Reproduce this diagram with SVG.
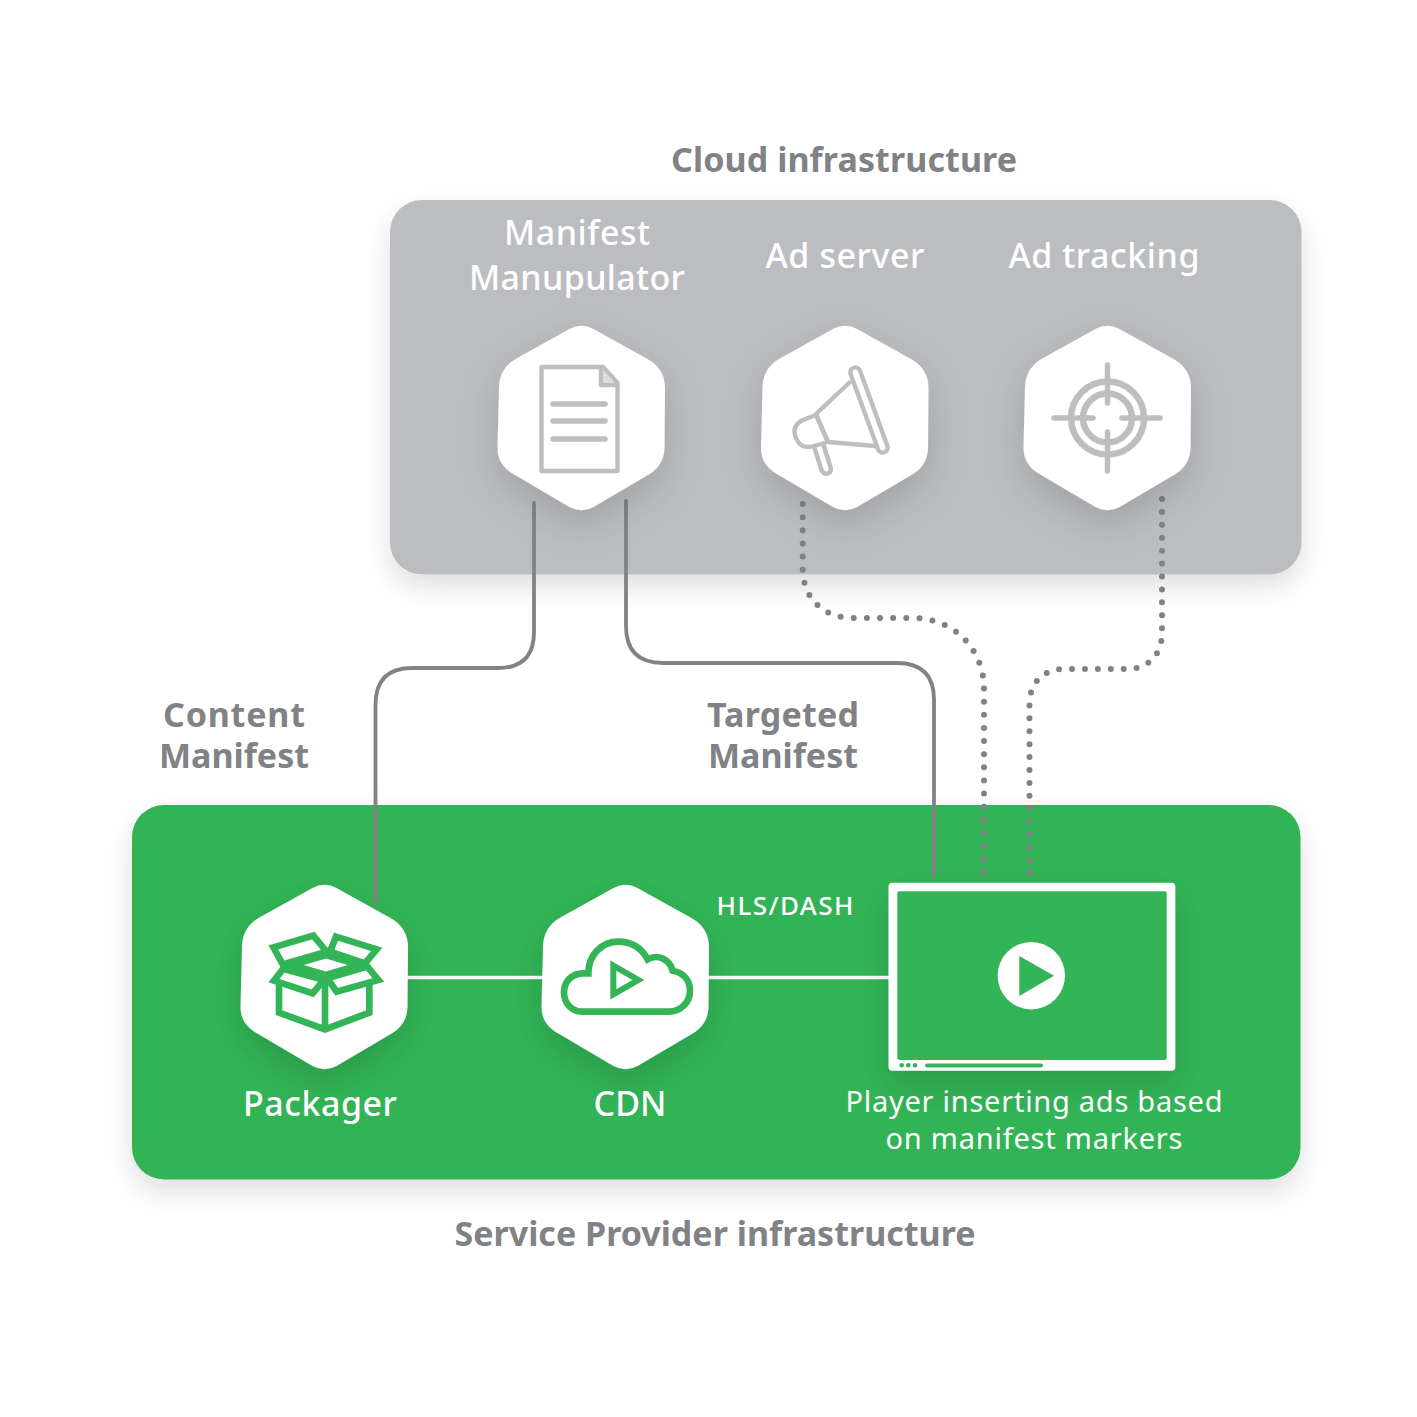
<svg xmlns="http://www.w3.org/2000/svg" width="1417" height="1417" viewBox="0 0 1417 1417">
<style>
text{font-family:"Noto Sans","Liberation Sans",sans-serif;text-anchor:middle}
.h{font-size:34px;font-weight:700;fill:#808285}
.w{font-size:34px;font-weight:500;fill:#fff}
.s{font-size:26px;font-weight:500;fill:#fff}
.p{font-size:29px;fill:#fff}
.solid{fill:none;stroke:#808285;stroke-width:3.8;stroke-linecap:round}
.dot{fill:none;stroke:#808285;stroke-width:6;stroke-linecap:round;stroke-dasharray:0 1}
.wl{fill:none;stroke:#fff;stroke-width:3.5}
.gi{fill:none;stroke:#bcbec0;stroke-width:4.4;stroke-linecap:round;stroke-linejoin:round}
.ci{fill:none;stroke:#33b457;stroke-width:20;stroke-linejoin:miter}
</style>
<defs>
<filter id="ps" x="-10%" y="-20%" width="120%" height="150%"><feDropShadow dx="0" dy="12" stdDeviation="14" flood-color="#000" flood-opacity=".13"/></filter>
<filter id="hs" x="-50%" y="-50%" width="200%" height="210%"><feDropShadow dx="0" dy="14" stdDeviation="18" flood-color="#000" flood-opacity=".14"/></filter>
<path id="hex" d="M-12 -89Q0 -95.500 12 -89L66 -59Q83.500 -49 83.500 -30L83 30Q82.500 47 68 56L12 89Q0 95.500 -12 89L-68 56Q-84 47 -84 30L-82.500 -30Q-82.500 -49 -66 -59Z" fill="#fff" filter="url(#hs)"/>
</defs>
<rect width="1417" height="1417" fill="#fff"/>
<g id="cloud-panel"><rect x="390" y="200" width="911.500" height="374.500" rx="32" fill="#bbbdc0" filter="url(#ps)"/>
<text class="h" x="844" y="172" textLength="346">Cloud infrastructure</text></g>
<g id="provider-panel"><rect x="132" y="805" width="1168.500" height="374.500" rx="32" fill="#33b457" filter="url(#ps)"/>
<text class="h" x="715" y="1246" textLength="521">Service Provider infrastructure</text></g>
<g id="connectors">
<path class="wl" d="M405 977.500H545M706 977.500H892"/>
<path class="solid" d="M534 503V632Q534 668 498 668H412Q375.500 668 375.500 705V903"/>
<path class="solid" d="M626 501V626Q626 663 663 663H897Q934 663 934 700V875"/>
<path class="dot" pathLength="38.050" d="M802.700 504V568C802.700 600 825 618 853 618H913C955 618 984 650 984 689V873"/>
<path class="dot" pathLength="37.050" d="M1162 499V633C1162 655 1148 669 1127 669H1065C1043 669 1029.500 683 1029.500 704V874"/>
</g>
<g id="manipulator"><use href="#hex" x="581.500" y="418"/>
<path class="gi" d="M541.500 367H603L617.500 383V471H541.500Z"/><path class="gi" d="M601 367V385H617.500"/><path d="M603 370V383H615Z" fill="#dcddde"/>
<path class="gi" style="stroke-width:5.500" d="M553 404H605M553 421H605M553 439H605"/>
<text class="w" x="577" y="245" textLength="146">Manifest</text><text class="w" x="577" y="290" textLength="216">Manupulator</text></g>
<g id="ad-server"><use href="#hex" x="845" y="418"/>
<g transform="translate(1 1)">
<rect class="gi" x="-5" y="-45" width="10" height="90" rx="5" transform="translate(868 409) rotate(-20)"/>
<path class="gi" d="M849 381L815 413L827 441L874 445"/>
<path class="gi" d="M815 414L802 419Q790 425 795 437Q800 449 813 445L827 441Z"/>
<path class="gi" d="M813.500 447L820.500 469Q823 474 827 472.500Q831 471 829.500 466L822.500 444"/>
</g>
<text class="w" x="845" y="268" textLength="159">Ad server</text></g>
<g id="ad-tracking"><use href="#hex" x="1107.500" y="418"/>
<g class="gi" style="stroke-width:6.500"><circle cx="1107.500" cy="418" r="36.500"/><circle cx="1107.500" cy="418" r="24.500"/></g>
<path class="gi" style="stroke-width:5.500" d="M1054 418H1093M1122 418H1160M1107.500 365V403M1107.500 432V471"/>
<text class="w" x="1104" y="268" textLength="191">Ad tracking</text></g>
<g id="packager"><use href="#hex" x="324.500" y="977"/>
<g transform="translate(220 870) scale(.33333)" class="ci">
<path d="M177 345V428L315 478L448 428V345M315 330V478"/>
<path d="M160 232L280 197L320 245L188 283Z"/><path d="M348 200L470 238L435 280L330 245Z"/>
<path d="M215 285L318 255L418 285L318 315Z"/>
<path d="M190 296L312 330L278 370L162 332Z"/><path d="M442 290L475 330L350 365L322 325Z"/>
</g>
<text class="w" x="320" y="1116" textLength="154">Packager</text></g>
<g id="cdn"><use href="#hex" x="625.500" y="977"/>
<g transform="translate(220 870) scale(.33333)" class="ci">
<path d="M1085 425H1345C1385 425 1410 395 1410 362C1410 330 1390 308 1358 302C1350 270 1315 250 1283 268C1265 235 1235 215 1195 215C1145 215 1105 255 1105 310H1090C1055 310 1032 335 1032 367C1032 400 1055 425 1085 425Z"/>
<path d="M1180 287L1255 330L1180 373Z" style="stroke-width:18"/>
</g>
<text class="w" x="630" y="1116" textLength="73">CDN</text></g>
<g id="player">
<rect x="888.500" y="882.700" width="286.800" height="188" rx="4" fill="#fff" filter="url(#hs)"/>
<rect x="897.300" y="891.300" width="269.400" height="168.700" rx="2" fill="#33b457"/>
<g fill="#33b457"><circle cx="901.700" cy="1065.300" r="2.300"/><circle cx="908.300" cy="1065.300" r="2.300"/><circle cx="915" cy="1065.300" r="2.300"/><rect x="925" y="1063.400" width="118" height="4" rx="2"/></g>
<circle cx="1031.300" cy="975.700" r="33.700" fill="#fff"/><path d="M1019.300 956L1054 975.700L1019.300 996Z" fill="#33b457"/>
<text class="p" x="1034" y="1112" textLength="377">Player inserting ads based</text><text class="p" x="1034" y="1149" textLength="297">on manifest markers</text></g>
<g id="labels">
<text class="h" x="234" y="727" textLength="142">Content</text><text class="h" x="234" y="768" textLength="150">Manifest</text>
<text class="h" x="783" y="727" textLength="152">Targeted</text><text class="h" x="783" y="768" textLength="150">Manifest</text>
<text class="s" x="785" y="915" textLength="137">HLS/DASH</text></g>
</svg>
